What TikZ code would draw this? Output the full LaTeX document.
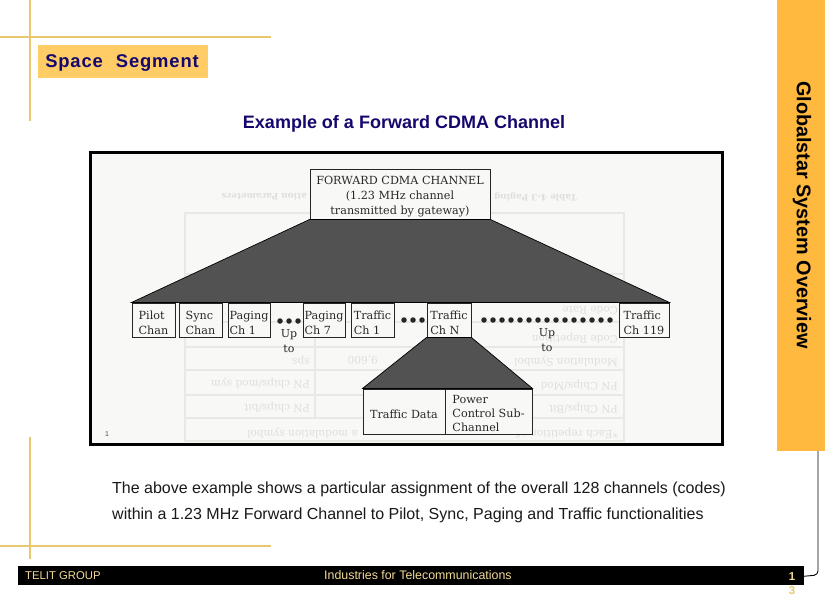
\documentclass[tikz,border=0pt]{standalone}
\usepackage{fontspec}
\setmainfont{Liberation Sans}
\newfontfamily\scanfont{DejaVu Serif}
\newfontfamily\tagfont[LetterSpace=4.6,WordSpace=1.1]{Liberation Sans Bold}
\definecolor{goldline}{HTML}{E8C86E}
\definecolor{bandorange}{HTML}{FFB93F}
\definecolor{tagorange}{HTML}{FFCC66}
\definecolor{navyink}{HTML}{14086E}
\definecolor{footink}{HTML}{F2DA96}
\definecolor{scanbg}{HTML}{F8F8F6}
\definecolor{ghost}{HTML}{E8E8E5}
\definecolor{ghostink}{HTML}{DEDEDA}
\definecolor{scanink}{HTML}{282828}
\definecolor{wedge}{HTML}{525252}
\tikzset{
  goldrule/.style={draw=goldline,line width=1.1pt},
  chbox/.style={draw=black!85,line width=1pt,fill=scanbg,inner sep=0pt,minimum height=34pt},
  chtext/.style={inner sep=0pt,text=scanink,font=\scanfont\fontsize{11.2}{15}\selectfont,align=left,yshift=-3pt},
  plain/.style={inner sep=0pt,text=scanink,font=\scanfont\fontsize{11}{15}\selectfont,align=center},
  dotmark/.style={circle,fill=black!85,inner sep=0pt,minimum size=5.5pt},
  wedgefill/.style={draw=black,line width=0.7pt,fill=wedge},
  ghostrule/.style={draw=ghost,line width=1.2pt},
  ghosttext/.style={inner sep=0pt,text=ghostink,rotate=180,anchor=west,font=\scanfont\fontsize{10.5}{12}\selectfont},
  ghosthead/.style={ghosttext,font=\scanfont\bfseries\fontsize{8.8}{11}\selectfont},
  footer/.style={inner sep=0pt,text=footink,font=\fontsize{11.3}{13}\selectfont},
  pagenum/.style={footer,font=\bfseries\fontsize{11.5}{13}\selectfont},
  bodyline/.style={inner sep=0pt,anchor=west,text=black!90,font=\fontsize{16}{18}\selectfont}
}
\begin{document}
\begin{tikzpicture}[x=1pt,y=-1pt]
\useasboundingbox (0,0) rectangle (825,600);
\fill[white] (0,0) rectangle (825,600);
% rules
\draw[goldrule] (0,37) -- (271,37);
\draw[goldrule] (30,0) -- (30,121);
\draw[goldrule] (0,546) -- (271,546);
\draw[goldrule] (30,437) -- (30,559);
% side band
\fill[bandorange] (777,0) rectangle (825,451);
\node[inner sep=0pt,rotate=-90,font=\bfseries\fontsize{19.8}{22}\selectfont,text=black] (band) at (802,215) {Globalstar System Overview};
% header
\fill[tagorange] (38,45) rectangle (208,78);
\node[inner sep=0pt,text=navyink,font=\tagfont\fontsize{18.4}{20}\selectfont] (tag) at (122,63) {Space\ \ Segment};
\node[inner sep=0pt,text=navyink,font=\bfseries\fontsize{18}{20}\selectfont] (title) at (404,124) {Example of a Forward CDMA Channel};
% scan frame
\draw[draw=black,line width=3pt,fill=scanbg] (90.5,152.5) rectangle (722,444);
% ghost table
\draw[ghostrule] (185,213) rectangle (624,441);
\foreach \yy in {274,298,322,347,370,395,418} \draw[ghostrule] (185,\yy) -- (624,\yy);
\draw[ghostrule] (315,298) -- (315,418);
\node[ghosthead] (g0) at (577,197) {Table 4-3 Paging};
\node[ghosthead] (g00) at (307,197) {ation Parameters};
\node[ghosttext] (g1) at (618,310) {Code Rate};
\node[ghosttext] (g2) at (618,338) {Code Repetition};
\node[ghosttext] (g3) at (618,361) {Modulation Symbol};
\node[ghosttext] (g4) at (618,385) {PN Chips/Mod};
\node[ghosttext] (g5) at (618,408) {PN Chips/Bit};
\node[ghosttext] (g6) at (618,433) {*Each repetition of};
\node[ghosttext] (g61) at (358,433) {a modulation symbol};
\node[ghosttext] (g7) at (310,360) {sps};
\node[ghosttext] (g8) at (310,383) {PN chips/mod sym};
\node[ghosttext] (g9) at (310,407) {PN chips/bit};
\node[ghosttext] (g10) at (378,360) {9,600};
\node[inner sep=0pt,font=\fontsize{7}{8}\selectfont,text=black!70] (fignum) at (107,434) {1};
% channel boxes
\node[chbox,minimum width=180pt,minimum height=50pt,label={[chtext,align=center]center:FORWARD CDMA CHANNEL\\(1.23 MHz channel\\transmitted by gateway)}] (fwd) at (400,194) {};
\node[chbox,minimum width=43pt,label={[chtext]center:Pilot\\Chan}] (pilot) at (153.5,320) {};
\node[chbox,minimum width=43pt,label={[chtext]center:Sync\\Chan}] (sync) at (200.5,320) {};
\node[chbox,minimum width=42pt,label={[chtext]center:Paging\\Ch 1}] (pag1) at (249,320) {};
\node[chbox,minimum width=42pt,label={[chtext]center:Paging\\Ch 7}] (pag7) at (324,320) {};
\node[chbox,minimum width=43pt,label={[chtext]center:Traffic\\Ch 1}] (tr1) at (372.5,320) {};
\node[chbox,minimum width=44pt,label={[chtext]center:Traffic\\Ch N}] (trN) at (449,320) {};
\node[chbox,minimum width=50pt,label={[chtext]center:Traffic\\Ch 119}] (tr119) at (644,320) {};
\node[chbox,minimum width=82pt,minimum height=45pt,label={[chtext]center:Traffic Data}] (tdata) at (404,411.5) {};
\node[chbox,minimum width=87pt,minimum height=45pt,label={[chtext,font=\scanfont\fontsize{11.2}{14}\selectfont,yshift=1pt]center:Power\\Control Sub-\\Channel}] (power) at (488.5,411.5) {};
% wedges
\path[wedgefill] (fwd.south west) -- (fwd.south east) -- (tr119.north east) -- (pilot.north west) -- cycle;
\path[wedgefill] (trN.south west) -- (trN.south east) -- (power.north east) -- (tdata.north west) -- cycle;
% dots
\foreach \xx/\nn in {280/a,289/b,298/c} \node[dotmark] (d\nn) at (\xx,321) {};
\foreach \xx/\nn in {404/a,413/b,422/c} \node[dotmark] (e\nn) at (\xx,320) {};
\foreach \ii in {0,...,14} \node[dotmark] (f\ii) at ({484+9*\ii},320) {};
\node[plain] (up1) at (289,341.5) {Up\\to};
\node[plain] (up2) at (547,340.5) {Up\\to};
% body
\node[bodyline] (l1) at (112,489) {The above example shows a particular assignment of the overall 128 channels (codes)};
\node[bodyline] (l2) at (112,515) {within a 1.23 MHz Forward Channel to Pilot, Sync, Paging and Traffic functionalities};
% footer bar
\fill[black] (18,566) rectangle (804,584.5);
\node[footer,anchor=west] (telit) at (25,575.5) {TELIT GROUP};
\node[footer,anchor=west,font=\fontsize{12.4}{14}\selectfont] (ind) at (324,575.5) {Industries for Telecommunications};
\node[pagenum] (pg1) at (792,577) {1};
\node[pagenum,text=goldline] (pg3) at (792,590.5) {3};
\coordinate (bandfoot) at (818,451);
\draw[black,line width=0.9pt,rounded corners=4pt] (bandfoot) -- (818,575) -- (pg1.east);
\end{tikzpicture}
\end{document}
